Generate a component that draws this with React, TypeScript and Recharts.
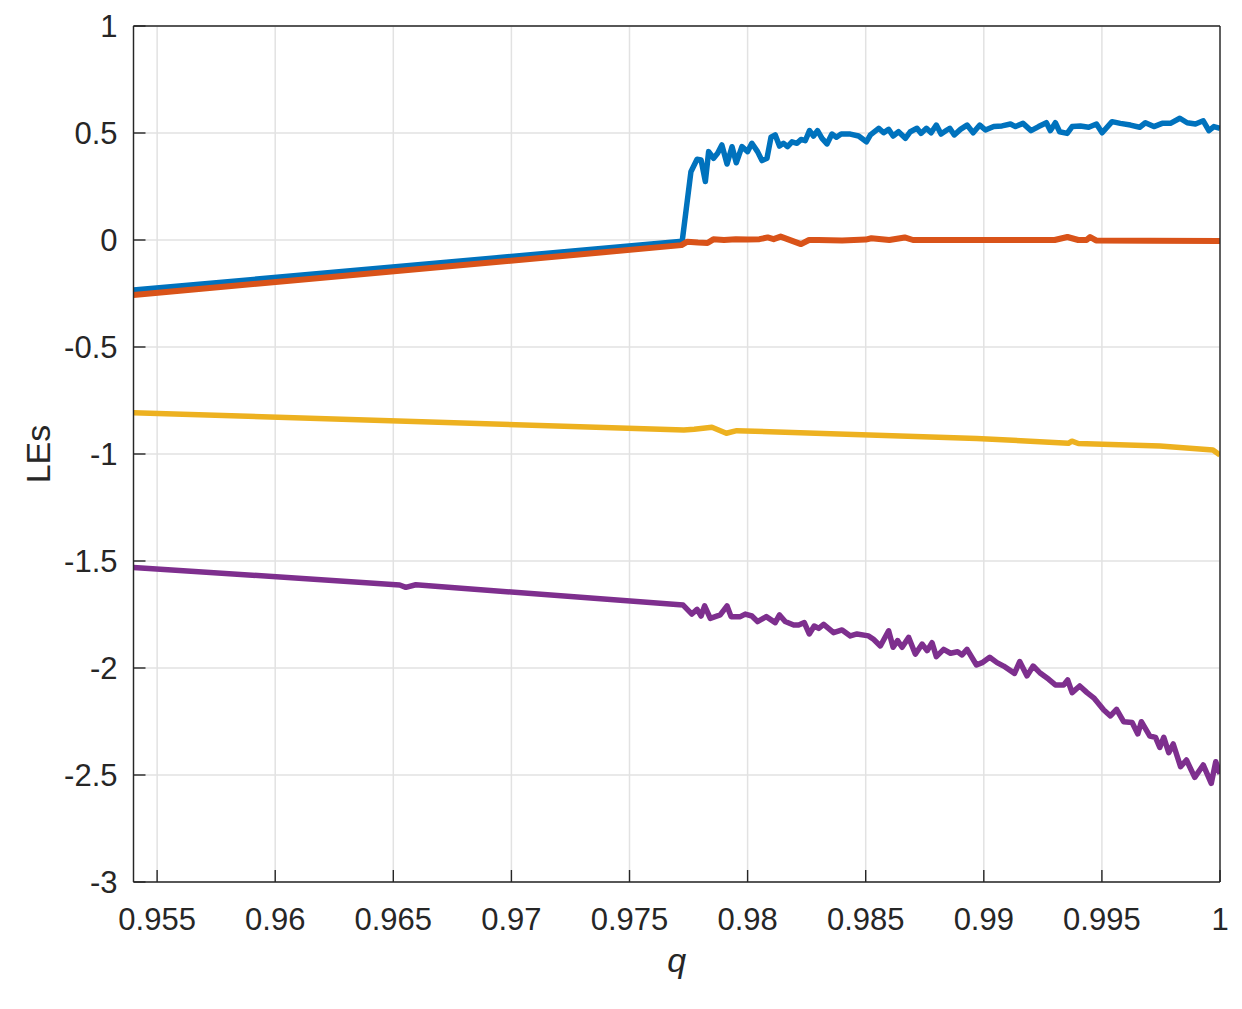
import { LineChart, Line, XAxis, YAxis, CartesianGrid, Label } from "recharts";

// tick values
const xTicks = [0.955, 0.96, 0.965, 0.97, 0.975, 0.98, 0.985, 0.99, 0.995, 1];
const yTicks = [-3, -2.5, -2, -1.5, -1, -0.5, 0, 0.5, 1];

// LE 1 (blue)
const blueQ = [
  0.954, 0.97723, 0.9776, 0.97786, 0.97803, 0.97821, 0.97835, 0.97856, 0.97873, 0.97891,
  0.97913, 0.97934, 0.97952, 0.97976, 0.98, 0.98018, 0.98042, 0.98061, 0.98082, 0.98099,
  0.98117, 0.98135, 0.98152, 0.98169, 0.98188, 0.98209, 0.98226, 0.98244, 0.98262, 0.98279,
  0.98296, 0.98315, 0.98336, 0.98357, 0.98376, 0.98396, 0.98435, 0.9847, 0.98503, 0.9852,
  0.98555, 0.98576, 0.98597, 0.98616, 0.98639, 0.98668, 0.98689, 0.98717, 0.98734, 0.98757,
  0.98777, 0.98799, 0.98819, 0.98844, 0.98856, 0.98875, 0.98901, 0.98929, 0.98955, 0.98983,
  0.99007, 0.99042, 0.99077, 0.99113, 0.99134, 0.99166, 0.992, 0.99232, 0.99265, 0.99282,
  0.99303, 0.99321, 0.99353, 0.99374, 0.99409, 0.99444, 0.99477, 0.99501, 0.99543, 0.99578,
  0.99621, 0.9966, 0.99684, 0.9972, 0.99755, 0.9979, 0.9983, 0.99861, 0.99896, 0.99929,
  0.99953, 0.99974, 1,
];
const blueV = [
  -0.234, -0.006, 0.319, 0.377, 0.374, 0.273, 0.413, 0.382, 0.405, 0.444,
  0.355, 0.436, 0.361, 0.436, 0.413, 0.452, 0.413, 0.371, 0.382, 0.48,
  0.491, 0.439, 0.452, 0.436, 0.459, 0.452, 0.47, 0.464, 0.511, 0.486,
  0.511, 0.475, 0.449, 0.495, 0.48, 0.495, 0.495, 0.486, 0.459, 0.491,
  0.522, 0.501, 0.517, 0.486, 0.506, 0.475, 0.506, 0.522, 0.498, 0.522,
  0.501, 0.537, 0.495, 0.514, 0.522, 0.491, 0.517, 0.537, 0.501, 0.537,
  0.514, 0.53, 0.533, 0.542, 0.53, 0.545, 0.511, 0.53, 0.548, 0.511,
  0.548, 0.506, 0.498, 0.53, 0.533, 0.527, 0.542, 0.501, 0.553, 0.545,
  0.537, 0.527, 0.548, 0.53, 0.545, 0.545, 0.569, 0.548, 0.542, 0.557,
  0.511, 0.53, 0.522,
];

// LE 2 (orange)
const orangeQ = [
  0.954, 0.9772, 0.97745, 0.9779, 0.9783, 0.97855, 0.979, 0.9795, 0.98, 0.9805,
  0.98085, 0.9811, 0.9814, 0.98226, 0.9826, 0.983, 0.984, 0.985, 0.98524, 0.986,
  0.98665, 0.987, 0.988, 0.99, 0.993, 0.99354, 0.994, 0.99435, 0.9945, 0.99475,
  0.997, 1,
];
const orangeV = [
  -0.257, -0.024, -0.008, -0.012, -0.014, 0.003, 0.0, 0.003, 0.002, 0.004,
  0.012, 0.004, 0.016, -0.019, 0.0, 0.0, -0.002, 0.002, 0.008, 0.0,
  0.012, 0.0, 0.0, 0.0, 0.0, 0.014, 0.0, 0.0, 0.014, -0.002,
  -0.003, -0.005,
];

// LE 3 (yellow)
const yellowQ = [
  0.954, 0.9773, 0.97774, 0.97849, 0.9791, 0.97954, 0.9897, 0.99358, 0.99373, 0.994,
  0.99746, 0.9997, 1,
];
const yellowV = [
  -0.807, -0.888, -0.884, -0.875, -0.903, -0.891, -0.927, -0.95, -0.94, -0.951,
  -0.963, -0.981, -1.005,
];

// LE 4 (purple)
const purpleQ = [
  0.954, 0.96527, 0.96553, 0.96595, 0.97727, 0.97764, 0.97786, 0.97803, 0.97818, 0.97842,
  0.97884, 0.97913, 0.9793, 0.97969, 0.9799, 0.98018, 0.98042, 0.98079, 0.98117, 0.98135,
  0.98159, 0.98195, 0.98216, 0.9824, 0.98261, 0.98282, 0.98301, 0.98322, 0.98364, 0.984,
  0.98435, 0.98463, 0.98512, 0.98533, 0.98562, 0.98597, 0.98616, 0.98635, 0.98654, 0.98682,
  0.9871, 0.98739, 0.9876, 0.98781, 0.98799, 0.9883, 0.98859, 0.98889, 0.98908, 0.98929,
  0.98969, 0.98993, 0.99025, 0.99056, 0.99084, 0.9913, 0.99152, 0.99183, 0.99209, 0.9924,
  0.99275, 0.99303, 0.99338, 0.99355, 0.99374, 0.99406, 0.99437, 0.99468, 0.99508, 0.99536,
  0.99562, 0.99592, 0.99628, 0.99652, 0.99667, 0.99703, 0.99727, 0.99745, 0.99762, 0.99783,
  0.99802, 0.99833, 0.99858, 0.99893, 0.99929, 0.99963, 0.99982, 1,
];
const purpleV = [
  -1.53, -1.612, -1.623, -1.611, -1.706, -1.748, -1.726, -1.757, -1.71, -1.768,
  -1.752, -1.71, -1.76, -1.76, -1.748, -1.757, -1.783, -1.76, -1.788, -1.752,
  -1.783, -1.799, -1.799, -1.788, -1.841, -1.804, -1.815, -1.796, -1.835, -1.822,
  -1.85, -1.841, -1.85, -1.866, -1.897, -1.826, -1.903, -1.872, -1.903, -1.857,
  -1.935, -1.888, -1.919, -1.882, -1.947, -1.913, -1.931, -1.924, -1.939, -1.913,
  -1.986, -1.975, -1.95, -1.975, -1.991, -2.025, -1.97, -2.037, -1.991, -2.025,
  -2.053, -2.079, -2.079, -2.056, -2.115, -2.084, -2.115, -2.142, -2.196, -2.224,
  -2.193, -2.251, -2.255, -2.308, -2.251, -2.318, -2.324, -2.371, -2.324, -2.396,
  -2.355, -2.461, -2.43, -2.511, -2.453, -2.539, -2.438, -2.495,
];

const zip = (qs: number[], vs: number[]) => qs.map((q, i) => ({ q, v: vs[i] }));

const blueData = zip(blueQ, blueV);
const orangeData = zip(orangeQ, orangeV);
const yellowData = zip(yellowQ, yellowV);
const purpleData = zip(purpleQ, purpleV);

const ink = "#262626";
const font = "'Liberation Sans', Arial, Helvetica, sans-serif";
const tickStyle = { fill: ink, fontSize: 31, fontFamily: font };

export default function App() {
  return (
    <div style={{ position: "absolute", left: 0, top: 0, background: "#fff" }}>
      <LineChart
        width={1242}
        height={1009}
        margin={{ top: 25, right: 21, bottom: 27, left: 13.5 }}
      >
        <CartesianGrid stroke="#e2e2e2" strokeWidth={1.5} />
        <XAxis
          dataKey="q"
          type="number"
          domain={[0.954, 1]}
          allowDataOverflow
          ticks={xTicks}
          interval={0}
          height={100}
          tickSize={-12}
          tickMargin={38}
          stroke={ink}
          strokeWidth={1.4}
          tick={tickStyle}
        >
          <Label
            value="q"
            position="insideBottom"
            offset={10}
            style={{ fontStyle: "italic", fontSize: 34, fill: ink, fontFamily: font }}
          />
        </XAxis>
        <XAxis
          xAxisId="top"
          orientation="top"
          type="number"
          domain={[0.954, 1]}
          allowDataOverflow
          ticks={xTicks}
          interval={0}
          height={1}
          tickSize={-12}
          stroke={ink}
          strokeWidth={1.4}
          tick={false}
        />
        <YAxis
          type="number"
          domain={[-3, 1]}
          allowDataOverflow
          ticks={yTicks}
          interval={0}
          width={120}
          tickSize={-12}
          tickMargin={28}
          stroke={ink}
          strokeWidth={1.4}
          tick={tickStyle}
        >
          <Label
            value="LEs"
            angle={-90}
            position="insideLeft"
            offset={24.5}
            textAnchor="middle"
            style={{ fontSize: 34, fill: ink, fontFamily: font, textAnchor: "middle" }}
          />
        </YAxis>
        <YAxis
          yAxisId="right"
          orientation="right"
          type="number"
          domain={[-3, 1]}
          allowDataOverflow
          ticks={yTicks}
          interval={0}
          width={1}
          tickSize={-12}
          stroke={ink}
          strokeWidth={1.4}
          tick={false}
        />
        <Line data={blueData} dataKey="v" type="linear" stroke="#0072BD" strokeWidth={5.5} strokeLinejoin="round" dot={false} isAnimationActive={false} />
        <Line data={orangeData} dataKey="v" type="linear" stroke="#D95319" strokeWidth={6} strokeLinejoin="round" dot={false} isAnimationActive={false} />
        <Line data={yellowData} dataKey="v" type="linear" stroke="#EDB120" strokeWidth={5.5} strokeLinejoin="round" dot={false} isAnimationActive={false} />
        <Line data={purpleData} dataKey="v" type="linear" stroke="#7E2F8E" strokeWidth={5.5} strokeLinejoin="round" dot={false} isAnimationActive={false} />
      </LineChart>
    </div>
  );
}
